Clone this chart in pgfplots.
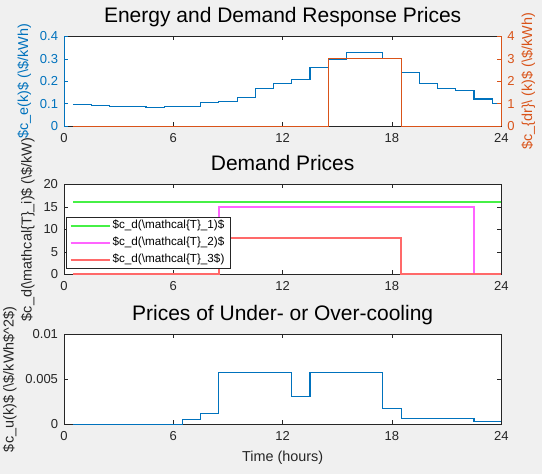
\documentclass[border=0pt]{standalone}
\usepackage{fontspec}
\setmainfont{Liberation Sans}
\usepackage{pgfplots}
\pgfplotsset{compat=1.18}

\definecolor{mblue}{RGB}{0,114,189}
\definecolor{morange}{RGB}{217,83,25}
\definecolor{axgray}{RGB}{38,38,38}
\definecolor{figbg}{RGB}{240,240,240}
\definecolor{cgreen}{RGB}{70,240,70}
\definecolor{cmag}{RGB}{255,100,255}
\definecolor{cred}{RGB}{255,105,105}

\newcommand\tickfont{\fontsize{13bp}{15bp}\selectfont}
\newcommand\labfont{\fontsize{14.4bp}{16bp}\selectfont}
\newcommand\titlefont{\fontsize{21bp}{24bp}\selectfont}
\newcommand\legfont{\fontsize{11.7bp}{13bp}\selectfont}

\pgfplotsset{
  mat/.style={
    scale only axis, width=437.3bp, height=89.8bp,
    xmin=0, xmax=24, xtick={0,6,12,18,24},
    axis line style={axgray, line width=0.6bp},
    tick style={axgray, line width=0.6bp},
    major tick length=4bp, tick align=inside,
    ticklabel style={font=\tickfont, text=axgray},
    xticklabel style={yshift=-4bp},
    yticklabel style={xshift=-2.5bp},
    scaled y ticks=false,
    title style={font=\titlefont, at={(0.5,1)}, anchor=base, yshift=8.4bp},
    label style={font=\labfont, text=axgray},
    ylabel style={yshift=2bp},
    xlabel style={yshift=-3bp},
    axis background/.style={fill=white},
    clip=false,
    /pgf/number format/assume math mode=true,
  },
  overlay axis/.style={
    mat, axis x line=none, xtick=\empty,
    axis background/.style={},
  },
}

\pgfplotstableread{
x y
0.5 0.097
1.5 0.093
2.5 0.089
3.5 0.086
4.5 0.083
5.5 0.086
6.5 0.089
7.5 0.106
8.5 0.112
9.5 0.126
10.5 0.169
11.5 0.191
12.5 0.208
13.5 0.261
14.5 0.299
15.5 0.330
16.5 0.330
17.5 0.300
18.5 0.240
19.5 0.191
20.5 0.169
21.5 0.158
22.5 0.121
23.5 0.103
24 0.103
}\energy

\pgfplotstableread{
x y
0.5 0
6.5 0.00055
7.5 0.00118
8.5 0.00572
12.5 0.00306
13.5 0.00572
17.5 0.0018
18.5 0.00063
22.5 0.00033
24 0.00033
}\cooling

\begin{document}
\begin{tikzpicture}
\path[fill=figbg, use as bounding box] (0,0) rectangle (542bp,474bp);

% top: box and x axis
\begin{axis}[mat, at={(64bp,347.8bp)}, anchor=south west,
  ymin=0, ymax=0.4, ytick=\empty,
  title={Energy and Demand Response Prices}]
\end{axis}
% top: left axis, energy price
\begin{axis}[overlay axis, at={(64bp,347.8bp)}, anchor=south west,
  axis y line*=left, ymin=0, ymax=0.4,
  ytick={0,0.1,0.2,0.3,0.4}, yticklabels={0,0.1,0.2,0.3,0.4},
  axis line style={mblue, line width=0.6bp},
  tick style={mblue, line width=0.6bp},
  ticklabel style={text=mblue},
  ylabel style={text=mblue},
  ylabel={\$c\_e(k)\$ (\textbackslash\$/kWh)}]
\addplot[const plot, mblue, line width=1.1bp] table[x=x, y=y] {\energy};
\end{axis}
% top: right axis, demand response price
\begin{axis}[overlay axis, at={(64bp,347.8bp)}, anchor=south west,
  axis y line*=right, ymin=0, ymax=4, ytick={0,1,2,3,4},
  yticklabel style={xshift=5bp},
  axis line style={morange, line width=0.6bp},
  tick style={morange, line width=0.6bp},
  ticklabel style={text=morange},
  ylabel style={text=morange, yshift=-2bp},
  ylabel={\$c\_\{dr\}\textbackslash{} (k)\$ (\textbackslash\$/kWh)}]
\addplot[const plot, morange, line width=1.1bp] coordinates {(0.5,0) (14.5,3) (18.5,0) (24,0)};
\end{axis}

% middle: demand prices
\begin{axis}[mat, at={(64bp,199.7bp)}, anchor=south west,
  ymin=0, ymax=20, ytick={0,5,10,15,20},
  title={Demand Prices},
  ylabel={\$c\_d(\textbackslash mathcal\{T\}\_i)\$ (\textbackslash\$/kW)},
  legend style={at={(0.004,0.06)}, anchor=south west, font=\legfont,
    draw=axgray, fill=white, line width=0.6bp, inner xsep=3.5bp, inner ysep=1.5bp,
    row sep=3bp, cells={anchor=west},
    nodes={inner sep=2bp, text depth=0.25em, text height=0.75em}},
  legend image code/.code={\draw[#1] (0bp,0bp) -- (39bp,0bp);}]
\addplot[const plot, color=cgreen, line width=2bp] coordinates {(0.5,16.2) (12.5,16.2) (24,16.2)};
\addlegendentry{\$c\_d(\textbackslash mathcal\{T\}\_1)\$}
\addplot[const plot, color=cmag, line width=2bp] coordinates {(0.5,0) (8.5,15) (22.5,0) (24,0)};
\addlegendentry{\$c\_d(\textbackslash mathcal\{T\}\_2)\$}
\addplot[const plot, color=cred, line width=2bp] coordinates {(0.5,0) (8.5,8) (18.5,0) (24,0)};
\addlegendentry{\$c\_d(\textbackslash mathcal\{T\}\_3\$)}
\end{axis}

% bottom: under- or over-cooling
\begin{axis}[mat, at={(64bp,49.7bp)}, anchor=south west,
  ymin=0, ymax=0.01, ytick={0,0.005,0.01}, yticklabels={0,0.005,0.01},
  title={Prices of Under- or Over-cooling},
  xlabel={Time (hours)},
  ylabel={\$c\_u(k)\$ (\textbackslash\$/kWh\$\textasciicircum 2\$)}]
\addplot[const plot, mblue, line width=1.1bp] table[x=x, y=y] {\cooling};
\end{axis}
\end{tikzpicture}
\end{document}
